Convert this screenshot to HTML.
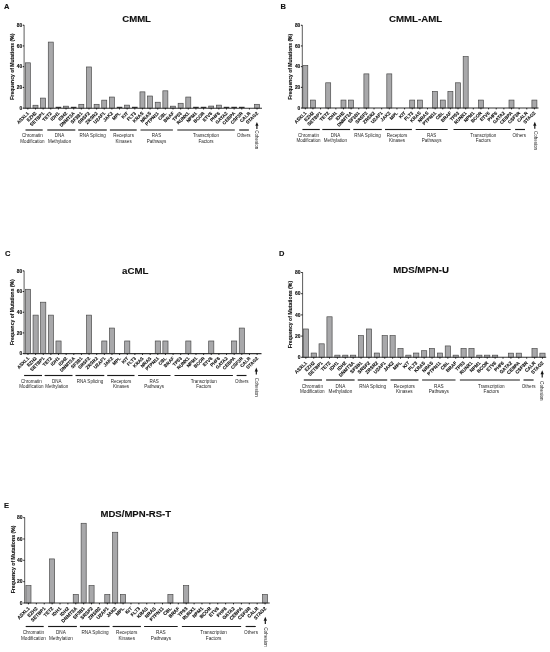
<!DOCTYPE html>
<html><head><meta charset="utf-8"><title>Frequency of Mutations</title>
<style>
html,body{margin:0;padding:0;background:#fff;}
svg{display:block;}
text{font-family:"Liberation Sans",Arial,sans-serif;fill:#111;}
.b{font-weight:bold;stroke:#111;stroke-width:1.2;}
.r{font-weight:normal;fill:#262626;}
.bar{fill:#a8a8aa;stroke:#444;stroke-width:0.65;}
.tiny{fill:#2a2a2a;stroke:none;}
.ax{fill:none;stroke:#4a4a4a;stroke-width:0.9;}
.axx{fill:none;stroke:#333;stroke-width:1.05;}
.tk{fill:none;stroke:#111;stroke-width:0.95;}
.gl{fill:none;stroke:#1a1a1a;stroke-width:1.15;}
.arr{fill:none;stroke:#111;stroke-width:1.15;}
.arrh{fill:#111;stroke:none;}
</style></head>
<body>
<svg width="550" height="652" viewBox="0 0 550 652">
<rect x="0" y="0" width="550" height="652" fill="#fff"/>
<g class="panel" id="panelA">
<text class="b" transform="translate(3.9 8.7) scale(0.1)" font-size="75">A</text>
<text class="b" text-anchor="middle" transform="translate(136.6 22.3) scale(0.1)" font-size="96">CMML</text>
<rect class="bar" x="25.35" y="62.82" width="5" height="45.33"/>
<rect class="bar" x="32.99" y="105.24" width="5" height="2.91"/>
<rect class="bar" x="40.63" y="98.08" width="5" height="10.07"/>
<rect class="bar" x="48.27" y="42.08" width="5" height="66.07"/>
<rect class="tiny" x="55.61" y="106.8" width="5.6" height="1.2"/>
<rect class="bar" x="63.55" y="106.17" width="5" height="1.98"/>
<rect class="tiny" x="70.89" y="106.8" width="5.6" height="1.2"/>
<rect class="bar" x="78.83" y="104.3" width="5" height="3.85"/>
<rect class="bar" x="86.47" y="66.97" width="5" height="41.18"/>
<rect class="bar" x="94.11" y="104.3" width="5" height="3.85"/>
<rect class="bar" x="101.75" y="100.15" width="5" height="8"/>
<rect class="bar" x="109.39" y="97.04" width="5" height="11.11"/>
<rect class="tiny" x="116.73" y="106.8" width="5.6" height="1.2"/>
<rect class="bar" x="124.67" y="105.13" width="5" height="3.02"/>
<rect class="tiny" x="132.01" y="106.8" width="5.6" height="1.2"/>
<rect class="bar" x="139.95" y="91.86" width="5" height="16.29"/>
<rect class="bar" x="147.59" y="96.01" width="5" height="12.14"/>
<rect class="bar" x="155.23" y="102.23" width="5" height="5.92"/>
<rect class="bar" x="162.87" y="90.82" width="5" height="17.33"/>
<rect class="bar" x="170.51" y="106.17" width="5" height="1.98"/>
<rect class="bar" x="178.15" y="103.27" width="5" height="4.88"/>
<rect class="bar" x="185.79" y="97.04" width="5" height="11.11"/>
<rect class="tiny" x="193.13" y="106.8" width="5.6" height="1.2"/>
<rect class="tiny" x="200.77" y="106.8" width="5.6" height="1.2"/>
<rect class="bar" x="208.71" y="106.06" width="5" height="2.09"/>
<rect class="bar" x="216.35" y="105.13" width="5" height="3.02"/>
<rect class="tiny" x="223.69" y="106.8" width="5.6" height="1.2"/>
<rect class="tiny" x="231.33" y="106.8" width="5.6" height="1.2"/>
<rect class="tiny" x="238.97" y="106.8" width="5.6" height="1.2"/>
<rect class="bar" x="254.55" y="104.3" width="5" height="3.85"/>
<path class="ax" d="M24.1 25.09V108.15"/>
<path class="axx" d="M23.7 108.15H262"/>
<path class="tk" d="M22.69 108.15H24.1"/>
<text class="b" text-anchor="end" transform="translate(22.08 109.86) scale(0.1)" font-size="48.4">0</text>
<path class="tk" d="M22.69 87.41H24.1"/>
<text class="b" text-anchor="end" transform="translate(22.08 89.12) scale(0.1)" font-size="48.4">20</text>
<path class="tk" d="M22.69 66.67H24.1"/>
<text class="b" text-anchor="end" transform="translate(22.08 68.38) scale(0.1)" font-size="48.4">40</text>
<path class="tk" d="M22.69 45.93H24.1"/>
<text class="b" text-anchor="end" transform="translate(22.08 47.64) scale(0.1)" font-size="48.4">60</text>
<path class="tk" d="M22.69 25.19H24.1"/>
<text class="b" text-anchor="end" transform="translate(22.08 26.9) scale(0.1)" font-size="48.4">80</text>
<text class="b" text-anchor="middle" transform="translate(13.82 66.67) rotate(-90) scale(0.1)" font-size="50.4">Frequency of Mutations (%)</text>
<path class="tk" d="M27.85 108.15V109.46"/>
<text class="b" text-anchor="end" transform="translate(29.26 113.69) rotate(-45) scale(0.1)" font-size="46.4">ASXL1</text>
<path class="tk" d="M35.49 108.15V109.46"/>
<text class="b" text-anchor="end" transform="translate(36.9 113.69) rotate(-45) scale(0.1)" font-size="46.4">EZH2</text>
<path class="tk" d="M43.13 108.15V109.46"/>
<text class="b" text-anchor="end" transform="translate(44.54 113.69) rotate(-45) scale(0.1)" font-size="46.4">SETBP1</text>
<path class="tk" d="M50.77 108.15V109.46"/>
<text class="b" text-anchor="end" transform="translate(52.18 113.69) rotate(-45) scale(0.1)" font-size="46.4">TET2</text>
<path class="tk" d="M58.41 108.15V109.46"/>
<text class="b" text-anchor="end" transform="translate(59.82 113.69) rotate(-45) scale(0.1)" font-size="46.4">IDH1</text>
<path class="tk" d="M66.05 108.15V109.46"/>
<text class="b" text-anchor="end" transform="translate(67.46 113.69) rotate(-45) scale(0.1)" font-size="46.4">IDH2</text>
<path class="tk" d="M73.69 108.15V109.46"/>
<text class="b" text-anchor="end" transform="translate(75.1 113.69) rotate(-45) scale(0.1)" font-size="46.4">DNMT3A</text>
<path class="tk" d="M81.33 108.15V109.46"/>
<text class="b" text-anchor="end" transform="translate(82.74 113.69) rotate(-45) scale(0.1)" font-size="46.4">SF3B1</text>
<path class="tk" d="M88.97 108.15V109.46"/>
<text class="b" text-anchor="end" transform="translate(90.38 113.69) rotate(-45) scale(0.1)" font-size="46.4">SRSF2</text>
<path class="tk" d="M96.61 108.15V109.46"/>
<text class="b" text-anchor="end" transform="translate(98.02 113.69) rotate(-45) scale(0.1)" font-size="46.4">ZRSR2</text>
<path class="tk" d="M104.25 108.15V109.46"/>
<text class="b" text-anchor="end" transform="translate(105.66 113.69) rotate(-45) scale(0.1)" font-size="46.4">U2AF1</text>
<path class="tk" d="M111.89 108.15V109.46"/>
<text class="b" text-anchor="end" transform="translate(113.3 113.69) rotate(-45) scale(0.1)" font-size="46.4">JAK2</text>
<path class="tk" d="M119.53 108.15V109.46"/>
<text class="b" text-anchor="end" transform="translate(120.94 113.69) rotate(-45) scale(0.1)" font-size="46.4">MPL</text>
<path class="tk" d="M127.17 108.15V109.46"/>
<text class="b" text-anchor="end" transform="translate(128.58 113.69) rotate(-45) scale(0.1)" font-size="46.4">KIT</text>
<path class="tk" d="M134.81 108.15V109.46"/>
<text class="b" text-anchor="end" transform="translate(136.22 113.69) rotate(-45) scale(0.1)" font-size="46.4">FLT3</text>
<path class="tk" d="M142.45 108.15V109.46"/>
<text class="b" text-anchor="end" transform="translate(143.86 113.69) rotate(-45) scale(0.1)" font-size="46.4">KRAS</text>
<path class="tk" d="M150.09 108.15V109.46"/>
<text class="b" text-anchor="end" transform="translate(151.5 113.69) rotate(-45) scale(0.1)" font-size="46.4">NRAS</text>
<path class="tk" d="M157.73 108.15V109.46"/>
<text class="b" text-anchor="end" transform="translate(159.14 113.69) rotate(-45) scale(0.1)" font-size="46.4">PTPN11</text>
<path class="tk" d="M165.37 108.15V109.46"/>
<text class="b" text-anchor="end" transform="translate(166.78 113.69) rotate(-45) scale(0.1)" font-size="46.4">CBL</text>
<path class="tk" d="M173.01 108.15V109.46"/>
<text class="b" text-anchor="end" transform="translate(174.42 113.69) rotate(-45) scale(0.1)" font-size="46.4">BRAF</text>
<path class="tk" d="M180.65 108.15V109.46"/>
<text class="b" text-anchor="end" transform="translate(182.06 113.69) rotate(-45) scale(0.1)" font-size="46.4">TP53</text>
<path class="tk" d="M188.29 108.15V109.46"/>
<text class="b" text-anchor="end" transform="translate(189.7 113.69) rotate(-45) scale(0.1)" font-size="46.4">RUNX1</text>
<path class="tk" d="M195.93 108.15V109.46"/>
<text class="b" text-anchor="end" transform="translate(197.34 113.69) rotate(-45) scale(0.1)" font-size="46.4">NPM1</text>
<path class="tk" d="M203.57 108.15V109.46"/>
<text class="b" text-anchor="end" transform="translate(204.98 113.69) rotate(-45) scale(0.1)" font-size="46.4">BCOR</text>
<path class="tk" d="M211.21 108.15V109.46"/>
<text class="b" text-anchor="end" transform="translate(212.62 113.69) rotate(-45) scale(0.1)" font-size="46.4">ETV6</text>
<path class="tk" d="M218.85 108.15V109.46"/>
<text class="b" text-anchor="end" transform="translate(220.26 113.69) rotate(-45) scale(0.1)" font-size="46.4">PHF6</text>
<path class="tk" d="M226.49 108.15V109.46"/>
<text class="b" text-anchor="end" transform="translate(227.9 113.69) rotate(-45) scale(0.1)" font-size="46.4">GATA2</text>
<path class="tk" d="M234.13 108.15V109.46"/>
<text class="b" text-anchor="end" transform="translate(235.54 113.69) rotate(-45) scale(0.1)" font-size="46.4">CEBPA</text>
<path class="tk" d="M241.77 108.15V109.46"/>
<text class="b" text-anchor="end" transform="translate(243.18 113.69) rotate(-45) scale(0.1)" font-size="46.4">CSF3R</text>
<path class="tk" d="M249.41 108.15V109.46"/>
<text class="b" text-anchor="end" transform="translate(250.82 113.69) rotate(-45) scale(0.1)" font-size="46.4">CALR</text>
<path class="tk" d="M257.05 108.15V109.46"/>
<text class="b" text-anchor="end" transform="translate(258.46 113.69) rotate(-45) scale(0.1)" font-size="46.4">STAG2</text>
<path class="gl" d="M25.5 130H42.7"/>
<text class="r" text-anchor="middle" transform="translate(32.4 137.4) scale(0.1)" font-size="45.3">Chromatin</text>
<text class="r" text-anchor="middle" transform="translate(32.4 142.85) scale(0.1)" font-size="45.3">Modification</text>
<path class="gl" d="M47.3 130H75.3"/>
<text class="r" text-anchor="middle" transform="translate(59.6 137.4) scale(0.1)" font-size="45.3">DNA</text>
<text class="r" text-anchor="middle" transform="translate(59.6 142.85) scale(0.1)" font-size="45.3">Methylation</text>
<path class="gl" d="M78.2 130H106.8"/>
<text class="r" text-anchor="middle" transform="translate(92.6 137.4) scale(0.1)" font-size="45.3">RNA Splicing</text>
<path class="gl" d="M109.9 130H136.7"/>
<text class="r" text-anchor="middle" transform="translate(123.6 137.4) scale(0.1)" font-size="45.3">Receptors</text>
<text class="r" text-anchor="middle" transform="translate(123.6 142.85) scale(0.1)" font-size="45.3">Kinases</text>
<path class="gl" d="M140.5 130H172.9"/>
<text class="r" text-anchor="middle" transform="translate(156.5 137.4) scale(0.1)" font-size="45.3">RAS</text>
<text class="r" text-anchor="middle" transform="translate(156.5 142.85) scale(0.1)" font-size="45.3">Pathways</text>
<path class="gl" d="M177.3 130H234.8"/>
<text class="r" text-anchor="middle" transform="translate(206 137.4) scale(0.1)" font-size="45.3">Transcription</text>
<text class="r" text-anchor="middle" transform="translate(206 142.85) scale(0.1)" font-size="45.3">Factors</text>
<path class="gl" d="M239.2 130H248.9"/>
<text class="r" text-anchor="middle" transform="translate(243.8 137.4) scale(0.1)" font-size="45.3">Others</text>
<path class="arr" d="M256.9 129V125.37"/>
<path class="arrh" d="M255.29 125.87L256.9 121.94L258.51 125.87Z"/>
<text class="r" transform="translate(255.34 130.2) rotate(90) scale(0.1)" font-size="45.3">Cohesion</text>
</g>
<g class="panel" id="panelB">
<text class="b" transform="translate(280.4 8.6) scale(0.1)" font-size="75">B</text>
<text class="b" text-anchor="middle" transform="translate(415.6 22.25) scale(0.1)" font-size="97">CMML-AML</text>
<rect class="bar" x="302.8" y="65.4" width="5" height="42.65"/>
<rect class="bar" x="310.44" y="100.07" width="5" height="7.98"/>
<rect class="bar" x="325.71" y="82.79" width="5" height="25.26"/>
<rect class="bar" x="340.99" y="100.07" width="5" height="7.98"/>
<rect class="bar" x="348.62" y="100.07" width="5" height="7.98"/>
<rect class="bar" x="363.9" y="73.88" width="5" height="34.17"/>
<rect class="bar" x="386.81" y="73.88" width="5" height="34.17"/>
<rect class="bar" x="409.72" y="100.07" width="5" height="7.98"/>
<rect class="bar" x="417.36" y="100.07" width="5" height="7.98"/>
<rect class="bar" x="432.63" y="91.48" width="5" height="16.57"/>
<rect class="bar" x="440.27" y="100.07" width="5" height="7.98"/>
<rect class="bar" x="447.9" y="91.48" width="5" height="16.57"/>
<rect class="bar" x="455.54" y="82.79" width="5" height="25.26"/>
<rect class="bar" x="463.18" y="56.6" width="5" height="51.45"/>
<rect class="bar" x="478.45" y="100.07" width="5" height="7.98"/>
<rect class="bar" x="509" y="100.07" width="5" height="7.98"/>
<rect class="bar" x="531.91" y="100.07" width="5" height="7.98"/>
<path class="ax" d="M302.3 25.15V108.05"/>
<path class="axx" d="M301.9 108.05H538.5"/>
<path class="tk" d="M300.89 108.05H302.3"/>
<text class="b" text-anchor="end" transform="translate(300.29 109.76) scale(0.1)" font-size="48.3">0</text>
<path class="tk" d="M300.89 87.35H302.3"/>
<text class="b" text-anchor="end" transform="translate(300.29 89.06) scale(0.1)" font-size="48.3">20</text>
<path class="tk" d="M300.89 66.65H302.3"/>
<text class="b" text-anchor="end" transform="translate(300.29 68.36) scale(0.1)" font-size="48.3">40</text>
<path class="tk" d="M300.89 45.95H302.3"/>
<text class="b" text-anchor="end" transform="translate(300.29 47.66) scale(0.1)" font-size="48.3">60</text>
<path class="tk" d="M300.89 25.25H302.3"/>
<text class="b" text-anchor="end" transform="translate(300.29 26.96) scale(0.1)" font-size="48.3">80</text>
<text class="b" text-anchor="middle" transform="translate(292.04 66.65) rotate(-90) scale(0.1)" font-size="50.3">Frequency of Mutations (%)</text>
<path class="tk" d="M305.3 108.05V109.36"/>
<text class="b" text-anchor="end" transform="translate(306.71 113.38) rotate(-45) scale(0.1)" font-size="46.3">ASXL1</text>
<path class="tk" d="M312.94 108.05V109.36"/>
<text class="b" text-anchor="end" transform="translate(314.35 113.38) rotate(-45) scale(0.1)" font-size="46.3">EZH2</text>
<path class="tk" d="M320.57 108.05V109.36"/>
<text class="b" text-anchor="end" transform="translate(321.98 113.38) rotate(-45) scale(0.1)" font-size="46.3">SETBP1</text>
<path class="tk" d="M328.21 108.05V109.36"/>
<text class="b" text-anchor="end" transform="translate(329.62 113.38) rotate(-45) scale(0.1)" font-size="46.3">TET2</text>
<path class="tk" d="M335.85 108.05V109.36"/>
<text class="b" text-anchor="end" transform="translate(337.26 113.38) rotate(-45) scale(0.1)" font-size="46.3">IDH1</text>
<path class="tk" d="M343.49 108.05V109.36"/>
<text class="b" text-anchor="end" transform="translate(344.89 113.38) rotate(-45) scale(0.1)" font-size="46.3">IDH2</text>
<path class="tk" d="M351.12 108.05V109.36"/>
<text class="b" text-anchor="end" transform="translate(352.53 113.38) rotate(-45) scale(0.1)" font-size="46.3">DNMT3A</text>
<path class="tk" d="M358.76 108.05V109.36"/>
<text class="b" text-anchor="end" transform="translate(360.17 113.38) rotate(-45) scale(0.1)" font-size="46.3">SF3B1</text>
<path class="tk" d="M366.4 108.05V109.36"/>
<text class="b" text-anchor="end" transform="translate(367.8 113.38) rotate(-45) scale(0.1)" font-size="46.3">SRSF2</text>
<path class="tk" d="M374.03 108.05V109.36"/>
<text class="b" text-anchor="end" transform="translate(375.44 113.38) rotate(-45) scale(0.1)" font-size="46.3">ZRSR2</text>
<path class="tk" d="M381.67 108.05V109.36"/>
<text class="b" text-anchor="end" transform="translate(383.08 113.38) rotate(-45) scale(0.1)" font-size="46.3">U2AF1</text>
<path class="tk" d="M389.31 108.05V109.36"/>
<text class="b" text-anchor="end" transform="translate(390.72 113.38) rotate(-45) scale(0.1)" font-size="46.3">JAK2</text>
<path class="tk" d="M396.94 108.05V109.36"/>
<text class="b" text-anchor="end" transform="translate(398.35 113.38) rotate(-45) scale(0.1)" font-size="46.3">MPL</text>
<path class="tk" d="M404.58 108.05V109.36"/>
<text class="b" text-anchor="end" transform="translate(405.99 113.38) rotate(-45) scale(0.1)" font-size="46.3">KIT</text>
<path class="tk" d="M412.22 108.05V109.36"/>
<text class="b" text-anchor="end" transform="translate(413.63 113.38) rotate(-45) scale(0.1)" font-size="46.3">FLT3</text>
<path class="tk" d="M419.86 108.05V109.36"/>
<text class="b" text-anchor="end" transform="translate(421.26 113.38) rotate(-45) scale(0.1)" font-size="46.3">KRAS</text>
<path class="tk" d="M427.49 108.05V109.36"/>
<text class="b" text-anchor="end" transform="translate(428.9 113.38) rotate(-45) scale(0.1)" font-size="46.3">NRAS</text>
<path class="tk" d="M435.13 108.05V109.36"/>
<text class="b" text-anchor="end" transform="translate(436.54 113.38) rotate(-45) scale(0.1)" font-size="46.3">PTPN11</text>
<path class="tk" d="M442.77 108.05V109.36"/>
<text class="b" text-anchor="end" transform="translate(444.17 113.38) rotate(-45) scale(0.1)" font-size="46.3">CBL</text>
<path class="tk" d="M450.4 108.05V109.36"/>
<text class="b" text-anchor="end" transform="translate(451.81 113.38) rotate(-45) scale(0.1)" font-size="46.3">BRAF</text>
<path class="tk" d="M458.04 108.05V109.36"/>
<text class="b" text-anchor="end" transform="translate(459.45 113.38) rotate(-45) scale(0.1)" font-size="46.3">TP53</text>
<path class="tk" d="M465.68 108.05V109.36"/>
<text class="b" text-anchor="end" transform="translate(467.09 113.38) rotate(-45) scale(0.1)" font-size="46.3">RUNX1</text>
<path class="tk" d="M473.31 108.05V109.36"/>
<text class="b" text-anchor="end" transform="translate(474.72 113.38) rotate(-45) scale(0.1)" font-size="46.3">NPM1</text>
<path class="tk" d="M480.95 108.05V109.36"/>
<text class="b" text-anchor="end" transform="translate(482.36 113.38) rotate(-45) scale(0.1)" font-size="46.3">BCOR</text>
<path class="tk" d="M488.59 108.05V109.36"/>
<text class="b" text-anchor="end" transform="translate(490 113.38) rotate(-45) scale(0.1)" font-size="46.3">ETV6</text>
<path class="tk" d="M496.23 108.05V109.36"/>
<text class="b" text-anchor="end" transform="translate(497.63 113.38) rotate(-45) scale(0.1)" font-size="46.3">PHF6</text>
<path class="tk" d="M503.86 108.05V109.36"/>
<text class="b" text-anchor="end" transform="translate(505.27 113.38) rotate(-45) scale(0.1)" font-size="46.3">GATA2</text>
<path class="tk" d="M511.5 108.05V109.36"/>
<text class="b" text-anchor="end" transform="translate(512.91 113.38) rotate(-45) scale(0.1)" font-size="46.3">CEBPA</text>
<path class="tk" d="M519.14 108.05V109.36"/>
<text class="b" text-anchor="end" transform="translate(520.54 113.38) rotate(-45) scale(0.1)" font-size="46.3">CSF3R</text>
<path class="tk" d="M526.77 108.05V109.36"/>
<text class="b" text-anchor="end" transform="translate(528.18 113.38) rotate(-45) scale(0.1)" font-size="46.3">CALR</text>
<path class="tk" d="M534.41 108.05V109.36"/>
<text class="b" text-anchor="end" transform="translate(535.82 113.38) rotate(-45) scale(0.1)" font-size="46.3">STAG2</text>
<path class="gl" d="M302.4 129.5H319.8"/>
<text class="r" text-anchor="middle" transform="translate(308.5 136.9) scale(0.1)" font-size="45.3">Chromatin</text>
<text class="r" text-anchor="middle" transform="translate(308.5 142.35) scale(0.1)" font-size="45.3">Modification</text>
<path class="gl" d="M322.3 129.5H350.1"/>
<text class="r" text-anchor="middle" transform="translate(335.4 136.9) scale(0.1)" font-size="45.3">DNA</text>
<text class="r" text-anchor="middle" transform="translate(335.4 142.35) scale(0.1)" font-size="45.3">Methylation</text>
<path class="gl" d="M353.3 129.5H381.8"/>
<text class="r" text-anchor="middle" transform="translate(367.5 136.9) scale(0.1)" font-size="45.3">RNA Splicing</text>
<path class="gl" d="M385 129.5H411.9"/>
<text class="r" text-anchor="middle" transform="translate(397 136.9) scale(0.1)" font-size="45.3">Receptors</text>
<text class="r" text-anchor="middle" transform="translate(397 142.35) scale(0.1)" font-size="45.3">Kinases</text>
<path class="gl" d="M415.7 129.5H447.7"/>
<text class="r" text-anchor="middle" transform="translate(431.6 136.9) scale(0.1)" font-size="45.3">RAS</text>
<text class="r" text-anchor="middle" transform="translate(431.6 142.35) scale(0.1)" font-size="45.3">Pathways</text>
<path class="gl" d="M453.5 129.5H510.7"/>
<text class="r" text-anchor="middle" transform="translate(483.3 136.9) scale(0.1)" font-size="45.3">Transcription</text>
<text class="r" text-anchor="middle" transform="translate(483.3 142.35) scale(0.1)" font-size="45.3">Factors</text>
<path class="gl" d="M515.1 129.5H525"/>
<text class="r" text-anchor="middle" transform="translate(519.2 136.9) scale(0.1)" font-size="45.3">Others</text>
<path class="arr" d="M534.8 128.8V125.18"/>
<path class="arrh" d="M533.19 125.68L534.8 121.76L536.41 125.68Z"/>
<text class="r" transform="translate(533.54 130.9) rotate(90) scale(0.1)" font-size="45.3">Cohesion</text>
</g>
<g class="panel" id="panelC">
<text class="b" transform="translate(5.1 255.7) scale(0.1)" font-size="75">C</text>
<text class="b" text-anchor="middle" transform="translate(135.3 273.5) scale(0.1)" font-size="97">aCML</text>
<rect class="bar" x="25.4" y="289.28" width="5.15" height="64.33"/>
<rect class="bar" x="33.04" y="315.12" width="5.15" height="38.48"/>
<rect class="bar" x="40.67" y="302.2" width="5.15" height="51.4"/>
<rect class="bar" x="48.31" y="315.12" width="5.15" height="38.48"/>
<rect class="bar" x="55.95" y="340.98" width="5.15" height="12.62"/>
<rect class="bar" x="86.5" y="315.12" width="5.15" height="38.48"/>
<rect class="bar" x="101.77" y="340.98" width="5.15" height="12.62"/>
<rect class="bar" x="109.41" y="328.05" width="5.15" height="25.55"/>
<rect class="bar" x="124.68" y="340.98" width="5.15" height="12.62"/>
<rect class="bar" x="155.23" y="340.98" width="5.15" height="12.62"/>
<rect class="bar" x="162.87" y="340.98" width="5.15" height="12.62"/>
<rect class="bar" x="185.78" y="340.98" width="5.15" height="12.62"/>
<rect class="bar" x="208.69" y="340.98" width="5.15" height="12.62"/>
<rect class="bar" x="231.6" y="340.98" width="5.15" height="12.62"/>
<rect class="bar" x="239.24" y="328.05" width="5.15" height="25.55"/>
<path class="ax" d="M24.1 270.78V353.6"/>
<path class="axx" d="M23.7 353.6H261.5"/>
<path class="tk" d="M22.69 353.6H24.1"/>
<text class="b" text-anchor="end" transform="translate(22.09 355.31) scale(0.1)" font-size="48.2">0</text>
<path class="tk" d="M22.69 332.92H24.1"/>
<text class="b" text-anchor="end" transform="translate(22.09 334.63) scale(0.1)" font-size="48.2">20</text>
<path class="tk" d="M22.69 312.24H24.1"/>
<text class="b" text-anchor="end" transform="translate(22.09 313.95) scale(0.1)" font-size="48.2">40</text>
<path class="tk" d="M22.69 291.56H24.1"/>
<text class="b" text-anchor="end" transform="translate(22.09 293.27) scale(0.1)" font-size="48.2">60</text>
<path class="tk" d="M22.69 270.88H24.1"/>
<text class="b" text-anchor="end" transform="translate(22.09 272.59) scale(0.1)" font-size="48.2">80</text>
<text class="b" text-anchor="middle" transform="translate(14.35 312.24) rotate(-90) scale(0.1)" font-size="50.2">Frequency of Mutations (%)</text>
<path class="tk" d="M27.97 353.6V354.91"/>
<text class="b" text-anchor="end" transform="translate(29.48 358.72) rotate(-45) scale(0.1)" font-size="46.2">ASXL1</text>
<path class="tk" d="M35.61 353.6V354.91"/>
<text class="b" text-anchor="end" transform="translate(37.12 358.72) rotate(-45) scale(0.1)" font-size="46.2">EZH2</text>
<path class="tk" d="M43.25 353.6V354.91"/>
<text class="b" text-anchor="end" transform="translate(44.76 358.72) rotate(-45) scale(0.1)" font-size="46.2">SETBP1</text>
<path class="tk" d="M50.89 353.6V354.91"/>
<text class="b" text-anchor="end" transform="translate(52.39 358.72) rotate(-45) scale(0.1)" font-size="46.2">TET2</text>
<path class="tk" d="M58.52 353.6V354.91"/>
<text class="b" text-anchor="end" transform="translate(60.03 358.72) rotate(-45) scale(0.1)" font-size="46.2">IDH1</text>
<path class="tk" d="M66.16 353.6V354.91"/>
<text class="b" text-anchor="end" transform="translate(67.67 358.72) rotate(-45) scale(0.1)" font-size="46.2">IDH2</text>
<path class="tk" d="M73.8 353.6V354.91"/>
<text class="b" text-anchor="end" transform="translate(75.3 358.72) rotate(-45) scale(0.1)" font-size="46.2">DNMT3A</text>
<path class="tk" d="M81.43 353.6V354.91"/>
<text class="b" text-anchor="end" transform="translate(82.94 358.72) rotate(-45) scale(0.1)" font-size="46.2">SF3B1</text>
<path class="tk" d="M89.07 353.6V354.91"/>
<text class="b" text-anchor="end" transform="translate(90.58 358.72) rotate(-45) scale(0.1)" font-size="46.2">SRSF2</text>
<path class="tk" d="M96.71 353.6V354.91"/>
<text class="b" text-anchor="end" transform="translate(98.22 358.72) rotate(-45) scale(0.1)" font-size="46.2">ZRSR2</text>
<path class="tk" d="M104.34 353.6V354.91"/>
<text class="b" text-anchor="end" transform="translate(105.85 358.72) rotate(-45) scale(0.1)" font-size="46.2">U2AF1</text>
<path class="tk" d="M111.98 353.6V354.91"/>
<text class="b" text-anchor="end" transform="translate(113.49 358.72) rotate(-45) scale(0.1)" font-size="46.2">JAK2</text>
<path class="tk" d="M119.62 353.6V354.91"/>
<text class="b" text-anchor="end" transform="translate(121.13 358.72) rotate(-45) scale(0.1)" font-size="46.2">MPL</text>
<path class="tk" d="M127.26 353.6V354.91"/>
<text class="b" text-anchor="end" transform="translate(128.76 358.72) rotate(-45) scale(0.1)" font-size="46.2">KIT</text>
<path class="tk" d="M134.89 353.6V354.91"/>
<text class="b" text-anchor="end" transform="translate(136.4 358.72) rotate(-45) scale(0.1)" font-size="46.2">FLT3</text>
<path class="tk" d="M142.53 353.6V354.91"/>
<text class="b" text-anchor="end" transform="translate(144.04 358.72) rotate(-45) scale(0.1)" font-size="46.2">KRAS</text>
<path class="tk" d="M150.17 353.6V354.91"/>
<text class="b" text-anchor="end" transform="translate(151.67 358.72) rotate(-45) scale(0.1)" font-size="46.2">NRAS</text>
<path class="tk" d="M157.8 353.6V354.91"/>
<text class="b" text-anchor="end" transform="translate(159.31 358.72) rotate(-45) scale(0.1)" font-size="46.2">PTPN11</text>
<path class="tk" d="M165.44 353.6V354.91"/>
<text class="b" text-anchor="end" transform="translate(166.95 358.72) rotate(-45) scale(0.1)" font-size="46.2">CBL</text>
<path class="tk" d="M173.08 353.6V354.91"/>
<text class="b" text-anchor="end" transform="translate(174.59 358.72) rotate(-45) scale(0.1)" font-size="46.2">BRAF</text>
<path class="tk" d="M180.71 353.6V354.91"/>
<text class="b" text-anchor="end" transform="translate(182.22 358.72) rotate(-45) scale(0.1)" font-size="46.2">TP53</text>
<path class="tk" d="M188.35 353.6V354.91"/>
<text class="b" text-anchor="end" transform="translate(189.86 358.72) rotate(-45) scale(0.1)" font-size="46.2">RUNX1</text>
<path class="tk" d="M195.99 353.6V354.91"/>
<text class="b" text-anchor="end" transform="translate(197.5 358.72) rotate(-45) scale(0.1)" font-size="46.2">NPM1</text>
<path class="tk" d="M203.63 353.6V354.91"/>
<text class="b" text-anchor="end" transform="translate(205.13 358.72) rotate(-45) scale(0.1)" font-size="46.2">BCOR</text>
<path class="tk" d="M211.26 353.6V354.91"/>
<text class="b" text-anchor="end" transform="translate(212.77 358.72) rotate(-45) scale(0.1)" font-size="46.2">ETV6</text>
<path class="tk" d="M218.9 353.6V354.91"/>
<text class="b" text-anchor="end" transform="translate(220.41 358.72) rotate(-45) scale(0.1)" font-size="46.2">PHF6</text>
<path class="tk" d="M226.54 353.6V354.91"/>
<text class="b" text-anchor="end" transform="translate(228.04 358.72) rotate(-45) scale(0.1)" font-size="46.2">GATA2</text>
<path class="tk" d="M234.17 353.6V354.91"/>
<text class="b" text-anchor="end" transform="translate(235.68 358.72) rotate(-45) scale(0.1)" font-size="46.2">CEBPA</text>
<path class="tk" d="M241.81 353.6V354.91"/>
<text class="b" text-anchor="end" transform="translate(243.32 358.72) rotate(-45) scale(0.1)" font-size="46.2">CSF3R</text>
<path class="tk" d="M249.45 353.6V354.91"/>
<text class="b" text-anchor="end" transform="translate(250.96 358.72) rotate(-45) scale(0.1)" font-size="46.2">CALR</text>
<path class="tk" d="M257.08 353.6V354.91"/>
<text class="b" text-anchor="end" transform="translate(258.59 358.72) rotate(-45) scale(0.1)" font-size="46.2">STAG2</text>
<path class="gl" d="M24.1 375.5H42"/>
<text class="r" text-anchor="middle" transform="translate(31.4 383) scale(0.1)" font-size="45.2">Chromatin</text>
<text class="r" text-anchor="middle" transform="translate(31.4 387.55) scale(0.1)" font-size="45.2">Modification</text>
<path class="gl" d="M44.6 375.5H72.5"/>
<text class="r" text-anchor="middle" transform="translate(56.7 383) scale(0.1)" font-size="45.2">DNA</text>
<text class="r" text-anchor="middle" transform="translate(56.7 387.55) scale(0.1)" font-size="45.2">Methylation</text>
<path class="gl" d="M75.5 375.5H104.3"/>
<text class="r" text-anchor="middle" transform="translate(90 383) scale(0.1)" font-size="45.2">RNA Splicing</text>
<path class="gl" d="M107.2 375.5H134.5"/>
<text class="r" text-anchor="middle" transform="translate(121 383) scale(0.1)" font-size="45.2">Receptors</text>
<text class="r" text-anchor="middle" transform="translate(121 387.55) scale(0.1)" font-size="45.2">Kinases</text>
<path class="gl" d="M138.1 375.5H170.5"/>
<text class="r" text-anchor="middle" transform="translate(154.1 383) scale(0.1)" font-size="45.2">RAS</text>
<text class="r" text-anchor="middle" transform="translate(154.1 387.55) scale(0.1)" font-size="45.2">Pathways</text>
<path class="gl" d="M174.5 375.5H232.9"/>
<text class="r" text-anchor="middle" transform="translate(203.7 383) scale(0.1)" font-size="45.2">Transcription</text>
<text class="r" text-anchor="middle" transform="translate(203.7 387.55) scale(0.1)" font-size="45.2">Factors</text>
<path class="gl" d="M236.6 375.5H246.5"/>
<text class="r" text-anchor="middle" transform="translate(241.8 383.4) scale(0.1)" font-size="45.2">Others</text>
<path class="arr" d="M256.3 374.5V370.88"/>
<path class="arrh" d="M254.69 371.38L256.3 367.46L257.91 371.38Z"/>
<text class="r" transform="translate(255.04 377.7) rotate(90) scale(0.1)" font-size="45.2">Cohesion</text>
</g>
<g class="panel" id="panelD">
<text class="b" transform="translate(279 256) scale(0.1)" font-size="75">D</text>
<text class="b" text-anchor="middle" transform="translate(421.1 273.4) scale(0.1)" font-size="96.5">MDS/MPN-U</text>
<rect class="bar" x="303.25" y="328.98" width="5.2" height="28.32"/>
<rect class="bar" x="311.14" y="353.04" width="5.2" height="4.26"/>
<rect class="bar" x="319.02" y="343.82" width="5.2" height="13.48"/>
<rect class="bar" x="326.91" y="316.79" width="5.2" height="40.51"/>
<rect class="bar" x="334.8" y="355.16" width="5.2" height="2.14"/>
<rect class="bar" x="342.69" y="355.16" width="5.2" height="2.14"/>
<rect class="bar" x="350.57" y="355.16" width="5.2" height="2.14"/>
<rect class="bar" x="358.46" y="335.66" width="5.2" height="21.64"/>
<rect class="bar" x="366.35" y="328.98" width="5.2" height="28.32"/>
<rect class="bar" x="374.23" y="353.04" width="5.2" height="4.26"/>
<rect class="bar" x="382.12" y="335.66" width="5.2" height="21.64"/>
<rect class="bar" x="390.01" y="335.66" width="5.2" height="21.64"/>
<rect class="bar" x="397.89" y="348.48" width="5.2" height="8.82"/>
<rect class="bar" x="405.78" y="355.16" width="5.2" height="2.14"/>
<rect class="bar" x="413.67" y="353.04" width="5.2" height="4.26"/>
<rect class="bar" x="421.56" y="350.71" width="5.2" height="6.59"/>
<rect class="bar" x="429.44" y="348.48" width="5.2" height="8.82"/>
<rect class="bar" x="437.33" y="353.04" width="5.2" height="4.26"/>
<rect class="bar" x="445.22" y="345.94" width="5.2" height="11.36"/>
<rect class="bar" x="453.1" y="355.16" width="5.2" height="2.14"/>
<rect class="bar" x="460.99" y="348.48" width="5.2" height="8.82"/>
<rect class="bar" x="468.88" y="348.48" width="5.2" height="8.82"/>
<rect class="bar" x="476.76" y="355.16" width="5.2" height="2.14"/>
<rect class="bar" x="484.65" y="355.16" width="5.2" height="2.14"/>
<rect class="bar" x="492.54" y="355.16" width="5.2" height="2.14"/>
<rect class="bar" x="508.31" y="353.15" width="5.2" height="4.15"/>
<rect class="bar" x="516.2" y="353.15" width="5.2" height="4.15"/>
<rect class="bar" x="531.97" y="348.59" width="5.2" height="8.71"/>
<rect class="bar" x="539.86" y="353.15" width="5.2" height="4.15"/>
<path class="ax" d="M302.6 272.4V357.3"/>
<path class="axx" d="M302.2 357.3H546.2"/>
<path class="tk" d="M301.16 357.3H302.6"/>
<text class="b" text-anchor="end" transform="translate(300.54 359.05) scale(0.1)" font-size="49.4">0</text>
<path class="tk" d="M301.16 336.1H302.6"/>
<text class="b" text-anchor="end" transform="translate(300.54 337.85) scale(0.1)" font-size="49.4">20</text>
<path class="tk" d="M301.16 314.9H302.6"/>
<text class="b" text-anchor="end" transform="translate(300.54 316.65) scale(0.1)" font-size="49.4">40</text>
<path class="tk" d="M301.16 293.7H302.6"/>
<text class="b" text-anchor="end" transform="translate(300.54 295.45) scale(0.1)" font-size="49.4">60</text>
<path class="tk" d="M301.16 272.5H302.6"/>
<text class="b" text-anchor="end" transform="translate(300.54 274.25) scale(0.1)" font-size="49.4">80</text>
<text class="b" text-anchor="middle" transform="translate(292.49 314.6) rotate(-90) scale(0.1)" font-size="51.5">Frequency of Mutations (%)</text>
<path class="tk" d="M305.85 357.3V358.64"/>
<text class="b" text-anchor="end" transform="translate(307.29 363.27) rotate(-45) scale(0.1)" font-size="47.4">ASXL1</text>
<path class="tk" d="M313.74 357.3V358.64"/>
<text class="b" text-anchor="end" transform="translate(315.18 363.27) rotate(-45) scale(0.1)" font-size="47.4">EZH2</text>
<path class="tk" d="M321.62 357.3V358.64"/>
<text class="b" text-anchor="end" transform="translate(323.07 363.27) rotate(-45) scale(0.1)" font-size="47.4">SETBP1</text>
<path class="tk" d="M329.51 357.3V358.64"/>
<text class="b" text-anchor="end" transform="translate(330.95 363.27) rotate(-45) scale(0.1)" font-size="47.4">TET2</text>
<path class="tk" d="M337.4 357.3V358.64"/>
<text class="b" text-anchor="end" transform="translate(338.84 363.27) rotate(-45) scale(0.1)" font-size="47.4">IDH1</text>
<path class="tk" d="M345.29 357.3V358.64"/>
<text class="b" text-anchor="end" transform="translate(346.73 363.27) rotate(-45) scale(0.1)" font-size="47.4">IDH2</text>
<path class="tk" d="M353.17 357.3V358.64"/>
<text class="b" text-anchor="end" transform="translate(354.61 363.27) rotate(-45) scale(0.1)" font-size="47.4">DNMT3A</text>
<path class="tk" d="M361.06 357.3V358.64"/>
<text class="b" text-anchor="end" transform="translate(362.5 363.27) rotate(-45) scale(0.1)" font-size="47.4">SF3B1</text>
<path class="tk" d="M368.95 357.3V358.64"/>
<text class="b" text-anchor="end" transform="translate(370.39 363.27) rotate(-45) scale(0.1)" font-size="47.4">SRSF2</text>
<path class="tk" d="M376.83 357.3V358.64"/>
<text class="b" text-anchor="end" transform="translate(378.28 363.27) rotate(-45) scale(0.1)" font-size="47.4">ZRSR2</text>
<path class="tk" d="M384.72 357.3V358.64"/>
<text class="b" text-anchor="end" transform="translate(386.16 363.27) rotate(-45) scale(0.1)" font-size="47.4">U2AF1</text>
<path class="tk" d="M392.61 357.3V358.64"/>
<text class="b" text-anchor="end" transform="translate(394.05 363.27) rotate(-45) scale(0.1)" font-size="47.4">JAK2</text>
<path class="tk" d="M400.49 357.3V358.64"/>
<text class="b" text-anchor="end" transform="translate(401.94 363.27) rotate(-45) scale(0.1)" font-size="47.4">MPL</text>
<path class="tk" d="M408.38 357.3V358.64"/>
<text class="b" text-anchor="end" transform="translate(409.82 363.27) rotate(-45) scale(0.1)" font-size="47.4">KIT</text>
<path class="tk" d="M416.27 357.3V358.64"/>
<text class="b" text-anchor="end" transform="translate(417.71 363.27) rotate(-45) scale(0.1)" font-size="47.4">FLT3</text>
<path class="tk" d="M424.16 357.3V358.64"/>
<text class="b" text-anchor="end" transform="translate(425.6 363.27) rotate(-45) scale(0.1)" font-size="47.4">KRAS</text>
<path class="tk" d="M432.04 357.3V358.64"/>
<text class="b" text-anchor="end" transform="translate(433.48 363.27) rotate(-45) scale(0.1)" font-size="47.4">NRAS</text>
<path class="tk" d="M439.93 357.3V358.64"/>
<text class="b" text-anchor="end" transform="translate(441.37 363.27) rotate(-45) scale(0.1)" font-size="47.4">PTPN11</text>
<path class="tk" d="M447.82 357.3V358.64"/>
<text class="b" text-anchor="end" transform="translate(449.26 363.27) rotate(-45) scale(0.1)" font-size="47.4">CBL</text>
<path class="tk" d="M455.7 357.3V358.64"/>
<text class="b" text-anchor="end" transform="translate(457.15 363.27) rotate(-45) scale(0.1)" font-size="47.4">BRAF</text>
<path class="tk" d="M463.59 357.3V358.64"/>
<text class="b" text-anchor="end" transform="translate(465.03 363.27) rotate(-45) scale(0.1)" font-size="47.4">TP53</text>
<path class="tk" d="M471.48 357.3V358.64"/>
<text class="b" text-anchor="end" transform="translate(472.92 363.27) rotate(-45) scale(0.1)" font-size="47.4">RUNX1</text>
<path class="tk" d="M479.36 357.3V358.64"/>
<text class="b" text-anchor="end" transform="translate(480.81 363.27) rotate(-45) scale(0.1)" font-size="47.4">NPM1</text>
<path class="tk" d="M487.25 357.3V358.64"/>
<text class="b" text-anchor="end" transform="translate(488.69 363.27) rotate(-45) scale(0.1)" font-size="47.4">BCOR</text>
<path class="tk" d="M495.14 357.3V358.64"/>
<text class="b" text-anchor="end" transform="translate(496.58 363.27) rotate(-45) scale(0.1)" font-size="47.4">ETV6</text>
<path class="tk" d="M503.02 357.3V358.64"/>
<text class="b" text-anchor="end" transform="translate(504.47 363.27) rotate(-45) scale(0.1)" font-size="47.4">PHF6</text>
<path class="tk" d="M510.91 357.3V358.64"/>
<text class="b" text-anchor="end" transform="translate(512.35 363.27) rotate(-45) scale(0.1)" font-size="47.4">GATA2</text>
<path class="tk" d="M518.8 357.3V358.64"/>
<text class="b" text-anchor="end" transform="translate(520.24 363.27) rotate(-45) scale(0.1)" font-size="47.4">CEBPA</text>
<path class="tk" d="M526.69 357.3V358.64"/>
<text class="b" text-anchor="end" transform="translate(528.13 363.27) rotate(-45) scale(0.1)" font-size="47.4">CSF3R</text>
<path class="tk" d="M534.57 357.3V358.64"/>
<text class="b" text-anchor="end" transform="translate(536.02 363.27) rotate(-45) scale(0.1)" font-size="47.4">CALR</text>
<path class="tk" d="M542.46 357.3V358.64"/>
<text class="b" text-anchor="end" transform="translate(543.9 363.27) rotate(-45) scale(0.1)" font-size="47.4">STAG2</text>
<path class="gl" d="M303.8 380H322"/>
<text class="r" text-anchor="middle" transform="translate(312.3 387.5) scale(0.1)" font-size="46.4">Chromatin</text>
<text class="r" text-anchor="middle" transform="translate(312.3 393.2) scale(0.1)" font-size="46.4">Modification</text>
<path class="gl" d="M326.1 380H354.6"/>
<text class="r" text-anchor="middle" transform="translate(340.4 387.5) scale(0.1)" font-size="46.4">DNA</text>
<text class="r" text-anchor="middle" transform="translate(340.4 393.2) scale(0.1)" font-size="46.4">Methylation</text>
<path class="gl" d="M357.7 380H387.2"/>
<text class="r" text-anchor="middle" transform="translate(372.7 387.5) scale(0.1)" font-size="46.4">RNA Splicing</text>
<path class="gl" d="M390.5 380H418.5"/>
<text class="r" text-anchor="middle" transform="translate(404.3 387.5) scale(0.1)" font-size="46.4">Receptors</text>
<text class="r" text-anchor="middle" transform="translate(404.3 393.2) scale(0.1)" font-size="46.4">Kinases</text>
<path class="gl" d="M422.1 380H455.5"/>
<text class="r" text-anchor="middle" transform="translate(438.8 387.5) scale(0.1)" font-size="46.4">RAS</text>
<text class="r" text-anchor="middle" transform="translate(438.8 393.2) scale(0.1)" font-size="46.4">Pathways</text>
<path class="gl" d="M459.9 380H519.9"/>
<text class="r" text-anchor="middle" transform="translate(491.3 387.5) scale(0.1)" font-size="46.4">Transcription</text>
<text class="r" text-anchor="middle" transform="translate(491.3 393.2) scale(0.1)" font-size="46.4">Factors</text>
<path class="gl" d="M523.5 380H533.6"/>
<text class="r" text-anchor="middle" transform="translate(528.6 387.5) scale(0.1)" font-size="46.4">Others</text>
<path class="arr" d="M542.2 377.39V373.68"/>
<path class="arrh" d="M540.55 374.19L542.2 370.18L543.85 374.19Z"/>
<text class="r" transform="translate(539.91 381.1) rotate(90) scale(0.1)" font-size="46.4">Cohesion</text>
</g>
<g class="panel" id="panelE">
<text class="b" transform="translate(3.9 508) scale(0.1)" font-size="75">E</text>
<text class="b" text-anchor="middle" transform="translate(135.8 517) scale(0.1)" font-size="95.7">MDS/MPN-RS-T</text>
<rect class="bar" x="25.9" y="585.59" width="5.1" height="17.41"/>
<rect class="bar" x="49.56" y="558.91" width="5.1" height="44.09"/>
<rect class="bar" x="73.22" y="594.44" width="5.1" height="8.56"/>
<rect class="bar" x="81.11" y="523.27" width="5.1" height="79.72"/>
<rect class="bar" x="89" y="585.59" width="5.1" height="17.41"/>
<rect class="bar" x="104.77" y="594.44" width="5.1" height="8.56"/>
<rect class="bar" x="112.66" y="532.24" width="5.1" height="70.76"/>
<rect class="bar" x="120.54" y="594.44" width="5.1" height="8.56"/>
<rect class="bar" x="167.87" y="594.44" width="5.1" height="8.56"/>
<rect class="bar" x="183.64" y="585.59" width="5.1" height="17.41"/>
<rect class="bar" x="262.51" y="594.44" width="5.1" height="8.56"/>
<path class="ax" d="M24.7 517.54V603"/>
<path class="axx" d="M24.3 603H269.7"/>
<path class="tk" d="M23.25 603H24.7"/>
<text class="b" text-anchor="end" transform="translate(22.63 604.76) scale(0.1)" font-size="49.8">0</text>
<path class="tk" d="M23.25 581.66H24.7"/>
<text class="b" text-anchor="end" transform="translate(22.63 583.42) scale(0.1)" font-size="49.8">20</text>
<path class="tk" d="M23.25 560.32H24.7"/>
<text class="b" text-anchor="end" transform="translate(22.63 562.08) scale(0.1)" font-size="49.8">40</text>
<path class="tk" d="M23.25 538.98H24.7"/>
<text class="b" text-anchor="end" transform="translate(22.63 540.74) scale(0.1)" font-size="49.8">60</text>
<path class="tk" d="M23.25 517.64H24.7"/>
<text class="b" text-anchor="end" transform="translate(22.63 519.4) scale(0.1)" font-size="49.8">80</text>
<text class="b" text-anchor="middle" transform="translate(14.82 559.42) rotate(-90) scale(0.1)" font-size="51.8">Frequency of Mutations (%)</text>
<path class="tk" d="M28.45 603V604.35"/>
<text class="b" text-anchor="end" transform="translate(30.01 608.91) rotate(-45) scale(0.1)" font-size="47.7">ASXL1</text>
<path class="tk" d="M36.34 603V604.35"/>
<text class="b" text-anchor="end" transform="translate(37.89 608.91) rotate(-45) scale(0.1)" font-size="47.7">EZH2</text>
<path class="tk" d="M44.22 603V604.35"/>
<text class="b" text-anchor="end" transform="translate(45.78 608.91) rotate(-45) scale(0.1)" font-size="47.7">SETBP1</text>
<path class="tk" d="M52.11 603V604.35"/>
<text class="b" text-anchor="end" transform="translate(53.67 608.91) rotate(-45) scale(0.1)" font-size="47.7">TET2</text>
<path class="tk" d="M60 603V604.35"/>
<text class="b" text-anchor="end" transform="translate(61.55 608.91) rotate(-45) scale(0.1)" font-size="47.7">IDH1</text>
<path class="tk" d="M67.88 603V604.35"/>
<text class="b" text-anchor="end" transform="translate(69.44 608.91) rotate(-45) scale(0.1)" font-size="47.7">IDH2</text>
<path class="tk" d="M75.77 603V604.35"/>
<text class="b" text-anchor="end" transform="translate(77.33 608.91) rotate(-45) scale(0.1)" font-size="47.7">DNMT3A</text>
<path class="tk" d="M83.66 603V604.35"/>
<text class="b" text-anchor="end" transform="translate(85.21 608.91) rotate(-45) scale(0.1)" font-size="47.7">SF3B1</text>
<path class="tk" d="M91.55 603V604.35"/>
<text class="b" text-anchor="end" transform="translate(93.1 608.91) rotate(-45) scale(0.1)" font-size="47.7">SRSF2</text>
<path class="tk" d="M99.43 603V604.35"/>
<text class="b" text-anchor="end" transform="translate(100.99 608.91) rotate(-45) scale(0.1)" font-size="47.7">ZRSR2</text>
<path class="tk" d="M107.32 603V604.35"/>
<text class="b" text-anchor="end" transform="translate(108.88 608.91) rotate(-45) scale(0.1)" font-size="47.7">U2AF1</text>
<path class="tk" d="M115.21 603V604.35"/>
<text class="b" text-anchor="end" transform="translate(116.76 608.91) rotate(-45) scale(0.1)" font-size="47.7">JAK2</text>
<path class="tk" d="M123.09 603V604.35"/>
<text class="b" text-anchor="end" transform="translate(124.65 608.91) rotate(-45) scale(0.1)" font-size="47.7">MPL</text>
<path class="tk" d="M130.98 603V604.35"/>
<text class="b" text-anchor="end" transform="translate(132.54 608.91) rotate(-45) scale(0.1)" font-size="47.7">KIT</text>
<path class="tk" d="M138.87 603V604.35"/>
<text class="b" text-anchor="end" transform="translate(140.42 608.91) rotate(-45) scale(0.1)" font-size="47.7">FLT3</text>
<path class="tk" d="M146.75 603V604.35"/>
<text class="b" text-anchor="end" transform="translate(148.31 608.91) rotate(-45) scale(0.1)" font-size="47.7">KRAS</text>
<path class="tk" d="M154.64 603V604.35"/>
<text class="b" text-anchor="end" transform="translate(156.2 608.91) rotate(-45) scale(0.1)" font-size="47.7">NRAS</text>
<path class="tk" d="M162.53 603V604.35"/>
<text class="b" text-anchor="end" transform="translate(164.08 608.91) rotate(-45) scale(0.1)" font-size="47.7">PTPN11</text>
<path class="tk" d="M170.42 603V604.35"/>
<text class="b" text-anchor="end" transform="translate(171.97 608.91) rotate(-45) scale(0.1)" font-size="47.7">CBL</text>
<path class="tk" d="M178.3 603V604.35"/>
<text class="b" text-anchor="end" transform="translate(179.86 608.91) rotate(-45) scale(0.1)" font-size="47.7">BRAF</text>
<path class="tk" d="M186.19 603V604.35"/>
<text class="b" text-anchor="end" transform="translate(187.75 608.91) rotate(-45) scale(0.1)" font-size="47.7">TP53</text>
<path class="tk" d="M194.08 603V604.35"/>
<text class="b" text-anchor="end" transform="translate(195.63 608.91) rotate(-45) scale(0.1)" font-size="47.7">RUNX1</text>
<path class="tk" d="M201.96 603V604.35"/>
<text class="b" text-anchor="end" transform="translate(203.52 608.91) rotate(-45) scale(0.1)" font-size="47.7">NPM1</text>
<path class="tk" d="M209.85 603V604.35"/>
<text class="b" text-anchor="end" transform="translate(211.41 608.91) rotate(-45) scale(0.1)" font-size="47.7">BCOR</text>
<path class="tk" d="M217.74 603V604.35"/>
<text class="b" text-anchor="end" transform="translate(219.29 608.91) rotate(-45) scale(0.1)" font-size="47.7">ETV6</text>
<path class="tk" d="M225.62 603V604.35"/>
<text class="b" text-anchor="end" transform="translate(227.18 608.91) rotate(-45) scale(0.1)" font-size="47.7">PHF6</text>
<path class="tk" d="M233.51 603V604.35"/>
<text class="b" text-anchor="end" transform="translate(235.07 608.91) rotate(-45) scale(0.1)" font-size="47.7">GATA2</text>
<path class="tk" d="M241.4 603V604.35"/>
<text class="b" text-anchor="end" transform="translate(242.95 608.91) rotate(-45) scale(0.1)" font-size="47.7">CEBPA</text>
<path class="tk" d="M249.29 603V604.35"/>
<text class="b" text-anchor="end" transform="translate(250.84 608.91) rotate(-45) scale(0.1)" font-size="47.7">CSF3R</text>
<path class="tk" d="M257.17 603V604.35"/>
<text class="b" text-anchor="end" transform="translate(258.73 608.91) rotate(-45) scale(0.1)" font-size="47.7">CALR</text>
<path class="tk" d="M265.06 603V604.35"/>
<text class="b" text-anchor="end" transform="translate(266.62 608.91) rotate(-45) scale(0.1)" font-size="47.7">STAG2</text>
<path class="gl" d="M25.7 626.5H43.7"/>
<text class="r" text-anchor="middle" transform="translate(33.4 634.2) scale(0.1)" font-size="46.7">Chromatin</text>
<text class="r" text-anchor="middle" transform="translate(33.4 639.54) scale(0.1)" font-size="46.7">Modification</text>
<path class="gl" d="M48.1 626.5H76.9"/>
<text class="r" text-anchor="middle" transform="translate(60.9 634.2) scale(0.1)" font-size="46.7">DNA</text>
<text class="r" text-anchor="middle" transform="translate(60.9 639.54) scale(0.1)" font-size="46.7">Methylation</text>
<path class="gl" d="M79.9 626.5H109.6"/>
<text class="r" text-anchor="middle" transform="translate(95.1 634.2) scale(0.1)" font-size="46.7">RNA Splicing</text>
<path class="gl" d="M112.6 626.5H140.9"/>
<text class="r" text-anchor="middle" transform="translate(126.7 634.2) scale(0.1)" font-size="46.7">Receptors</text>
<text class="r" text-anchor="middle" transform="translate(126.7 639.54) scale(0.1)" font-size="46.7">Kinases</text>
<path class="gl" d="M144.1 626.5H177.7"/>
<text class="r" text-anchor="middle" transform="translate(160.9 634.2) scale(0.1)" font-size="46.7">RAS</text>
<text class="r" text-anchor="middle" transform="translate(160.9 639.54) scale(0.1)" font-size="46.7">Pathways</text>
<path class="gl" d="M181.9 626.5H241.1"/>
<text class="r" text-anchor="middle" transform="translate(213.6 634.2) scale(0.1)" font-size="46.7">Transcription</text>
<text class="r" text-anchor="middle" transform="translate(213.6 639.54) scale(0.1)" font-size="46.7">Factors</text>
<path class="gl" d="M245.6 626.5H255.8"/>
<text class="r" text-anchor="middle" transform="translate(251 634.2) scale(0.1)" font-size="46.7">Others</text>
<path class="arr" d="M265.3 623.89V620.15"/>
<path class="arrh" d="M263.64 620.67L265.3 616.63L266.96 620.67Z"/>
<text class="r" transform="translate(264 627.2) rotate(90) scale(0.1)" font-size="46.7">Cohesion</text>
</g>
</svg>
</body></html>
